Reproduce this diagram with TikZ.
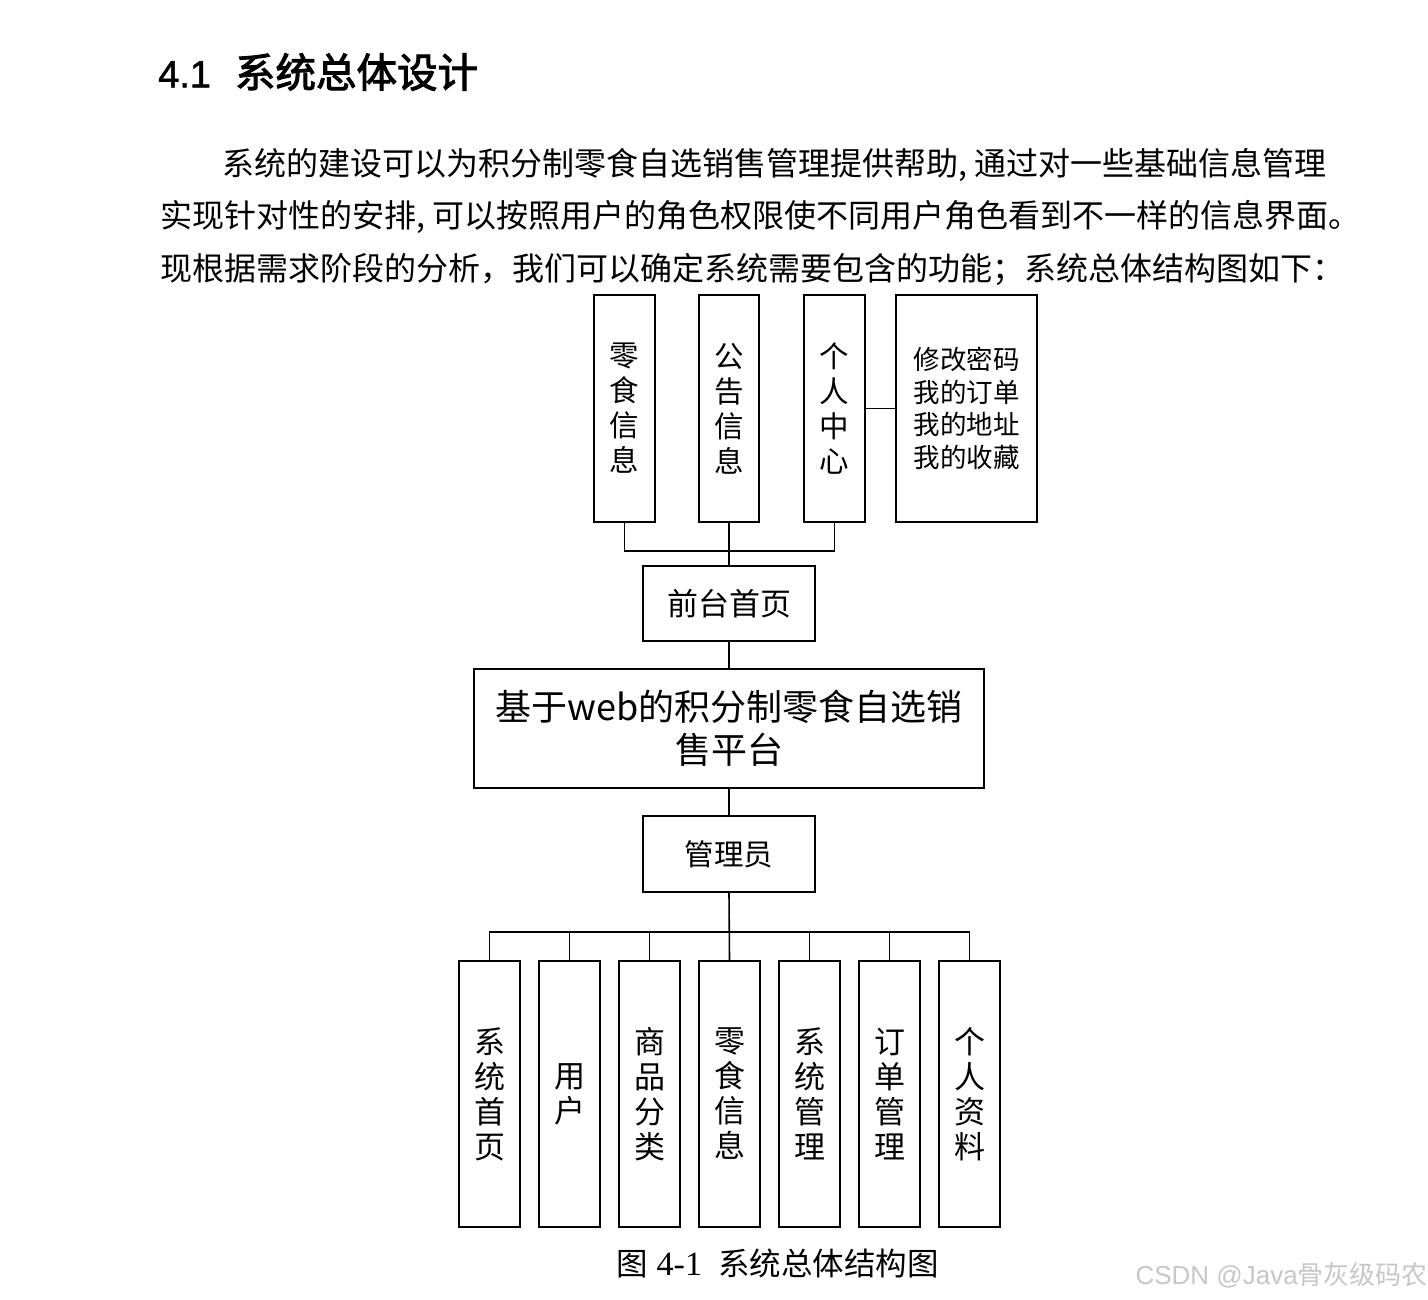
\documentclass[tikz,border=0pt]{standalone}
\usepackage{fontspec}
\setmainfont{Noto Sans CJK SC}
\newfontfamily\cjk{Noto Sans CJK SC}
\newfontfamily\cjkhead[FakeBold=2.5]{Noto Sans CJK SC}
\newfontfamily\latinhead[FakeBold=1.5]{Liberation Sans}
\newfontfamily\latinserif{Liberation Serif}
\begin{document}
\begin{tikzpicture}[x=1pt,y=-1pt,
  box/.style={draw,line width=1.6pt,inner sep=0pt,align=center},
  conn/.style={line width=1.6pt},
  para/.style={anchor=west,inner sep=0pt,font=\cjk\fontsize{32}{34}\selectfont},
  vtop/.style={box,minimum width=61pt,minimum height=227pt,font=\cjk\fontsize{29.5}{35}\selectfont},
  vbot/.style={box,minimum width=61pt,minimum height=266pt,font=\cjk\fontsize{31}{35}\selectfont}]
\useasboundingbox (0,0) rectangle (1428,1300);
\fill[white] (0,0) rectangle (1428,1300);
% heading
\node[anchor=west,inner sep=0pt] (head) at (158,72) {{\latinhead\fontsize{38}{40}\selectfont 4.1}\hspace{24pt}{\cjkhead\fontsize{40.5}{42}\selectfont 系统总体设计}};
% paragraph
\node[para] (p1) at (222,165) {系统的建设可以为积分制零食自选销售管理提供帮助, 通过对一些基础信息管理};
\node[para] (p2) at (160,217) {实现针对性的安排, 可以按照用户的角色权限使不同用户角色看到不一样的信息界面。};
\node[para] (p3) at (160,270) {现根据需求阶段的分析，我们可以确定系统需要包含的功能；系统总体结构图如下：};
% top boxes
\node[vtop] (ls) at (624.5,408.5) {零\\食\\信\\息};
\node[vtop,minimum width=60pt] (gg) at (729,408.5) {公\\告\\信\\息};
\node[vtop] (gr) at (834.5,408.5) {个\\人\\中\\心};
\node[box,minimum width=141pt,minimum height=227pt,font=\cjk\fontsize{26.5}{32.5}\selectfont] (xg) at (966.5,408.5) {修改密码\\我的订单\\我的地址\\我的收藏};
\draw[conn] (gr.east) -- (xg.west);
\coordinate (jt) at (729,551);
\node[box,minimum width=172pt,minimum height=75pt,font=\cjk\fontsize{31}{32}\selectfont] (qt) at (729,603.5) {前台首页};
\draw[conn] (ls.south) |- (jt) -| (gr.south);
\draw[conn] (gg.south) -- (qt.north);
% main
\node[box,minimum width=510pt,minimum height=119pt,font=\cjk\fontsize{36}{43}\selectfont] (main) at (729,728.5) {基于web的积分制零食自选销\\售平台};
\draw[conn] (qt.south) -- (main.north);
\node[box,minimum width=172pt,minimum height=76pt,font=\cjk\fontsize{29.5}{32}\selectfont] (gly) at (729,854) {管理员};
\draw[conn] (main.south) -- (gly.north);
% bottom boxes
\node[vbot] (b1) at (489.5,1094) {系\\统\\首\\页};
\node[vbot] (b2) at (569.5,1094) {用\\户};
\node[vbot] (b3) at (649.5,1094) {商\\品\\分\\类};
\node[vbot] (b4) at (729.5,1094) {零\\食\\信\\息};
\node[vbot] (b5) at (809.5,1094) {系\\统\\管\\理};
\node[vbot] (b6) at (889.5,1094) {订\\单\\管\\理};
\node[vbot] (b7) at (969.5,1094) {个\\人\\资\\料};
\coordinate (jb) at (729.5,932);
\draw[conn] (gly.south) -- (b4.north);
\draw[conn] (b1.north) |- (jb) -| (b7.north);
\foreach \b in {b2,b3,b5,b6} \draw[conn] (\b.north) -- (\b.north |- jb);
% caption
\node[anchor=west,inner sep=0pt,font=\cjk\fontsize{31.5}{32}\selectfont] (cap) at (616,1263) {图\hspace{9pt}{\latinserif\fontsize{34}{34}\selectfont 4-1}\hspace{16pt}系统总体结构图};
% watermark
\node[anchor=east,inner sep=0pt,text=black!22,font=\fontsize{26}{28}\selectfont] (wm) at (1428,1275) {{\fontspec{Liberation Sans}CSDN @Java}骨灰级码农};
\end{tikzpicture}
\end{document}
